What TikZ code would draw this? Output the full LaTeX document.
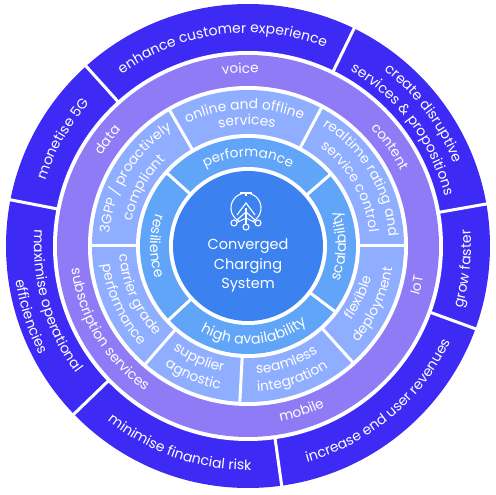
\documentclass[tikz,border=0pt]{standalone}
\usepackage{fontspec}
\setmainfont{Poppins}
\usepackage{tikz}
\usetikzlibrary{decorations.text}
\definecolor{goalBlue}{HTML}{3D2BF5}
\definecolor{marketPurple}{HTML}{8F7BF5}
\definecolor{featureBlue}{HTML}{8FAEFF}
\definecolor{qualityBlue}{HTML}{60A5F8}
\definecolor{coreBlue}{HTML}{3B82F0}
% clockwise text (tops point outwards): radius, middle angle, size, text
\newcommand{\cwlabel}[4]{\path[decorate,decoration={text along path,text color=white,text align=center,
    text={|\fontsize{#3}{#3}\selectfont|#4}}] (#2+85:#1) arc[start angle=#2+85,end angle=#2-85,radius=#1];}
% counter-clockwise text (tops point to the centre)
\newcommand{\ccwlabel}[4]{\path[decorate,decoration={text along path,text color=white,text align=center,
    text={|\fontsize{#3}{#3}\selectfont|#4}}] (#2-85:#1) arc[start angle=#2-85,end angle=#2+85,radius=#1];}

\begin{document}
\begin{tikzpicture}[
        x=1pt, y=1pt,
        gap/.style={white, line width=3pt},
        icon/.style={white, line width=1.1pt}
    ]
        \useasboundingbox[fill=white] (-248,-249) rectangle (248,246);

        % rings
        \fill[goalBlue] (0,0) circle (242);
        \fill[white] (0,0) circle (195);
        \fill[marketPurple] (0,0) circle (191);
        \fill[white] (0,0) circle (160);
        \fill[featureBlue] (0,0) circle (156);
        \fill[white] (0,0) circle (112);
        \fill[qualityBlue] (0,0) circle (108);
        \fill[white] (0,0) circle (79);
        \fill[coreBlue] (0,0) circle (75);

        % separators
        \foreach \a in {132,64,10,-20,-82,224,169}
            \draw[gap] (\a:193) -- (\a:245);
        \foreach \a in {120,62,0,-48,267,229,180}
            \draw[gap] (\a:158) -- (\a:110);
        \foreach \a in {138,41,-37,223}
            \draw[gap] (\a:77) -- (\a:110);

        % stopwatch
        \coordinate (watch) at (-2,38);
        \draw[icon] (watch)+(-64:15) arc[start angle=-64,end angle=244,radius=15];
        \draw[icon] (-8,53) -- (4,53) (-2,53) -- (-2,50);
        \draw[icon] (-2,20) -- (-2,38);
        \draw[icon] (-11,31) -- (-2,43) -- (7,31);
        \draw[icon] (-11,26) -- (-2,34) -- (7,26);
        \draw[icon] (-12,23) -- (-2,28) -- (8,23);
        \foreach \x/\y in {-14/23,-2/19,10/23}
            \draw[icon,fill=coreBlue] (\x,\y) circle (3);
        \node[white, align=center, font=\fontsize{14.5}{19.5}\selectfont] (core) at (0,-20) {Converged\\Charging\\System};

        % outer ring
        \cwlabel{213}{97.5}{14}{enhance customer experience}
        \cwlabel{213}{150}{14}{monetise 5G}
        \cwlabel{222}{37}{14}{create disruptive}
        \cwlabel{203}{37}{14}{services {\&} propositions}
        \ccwlabel{223}{-6}{14}{grow faster}
        \ccwlabel{224}{-50}{14}{increase end user revenues}
        \ccwlabel{224}{251}{14}{minimise financial risk}
        \ccwlabel{214}{196}{14}{maximise operational}
        \ccwlabel{235}{198}{14}{efficiencies}

        % purple ring
        \cwlabel{173}{92.5}{13.6}{voice}
        \cwlabel{172}{143}{13.6}{data}
        \cwlabel{170}{35}{13.6}{content}
        \ccwlabel{178}{-13}{13.6}{IoT}
        \ccwlabel{178}{-72}{13.6}{mobile}
        \ccwlabel{178}{211}{14}{subscription services}

        % feature ring
        \cwlabel{137}{91.5}{13.8}{online and offline}
        \cwlabel{121}{90.5}{13.8}{services}
        \cwlabel{139}{149}{13.8}{3GPP / proactively}
        \cwlabel{119}{151}{13.8}{compliant}
        \cwlabel{141}{31}{13.8}{realtime rating and}
        \cwlabel{122}{30}{13.8}{service control}
        \ccwlabel{127}{-25}{13.8}{flexible}
        \ccwlabel{146}{-25}{13.8}{deployment}
        \ccwlabel{128}{-71.5}{13.8}{seamless}
        \ccwlabel{146}{-71.5}{13.8}{integration}
        \ccwlabel{128}{246.5}{13.8}{supplier}
        \ccwlabel{146}{247}{13.8}{agnostic}
        \ccwlabel{129}{204}{13.8}{carrier grade}
        \ccwlabel{147}{205}{13.8}{performance}

        % quality ring
        \cwlabel{89}{90}{13.6}{performance}
        \ccwlabel{98}{180}{14}{resilience}
        \ccwlabel{98}{0}{14.3}{scalability}
        \ccwlabel{98}{274}{14.3}{high availability}
    \end{tikzpicture}
\end{document}
